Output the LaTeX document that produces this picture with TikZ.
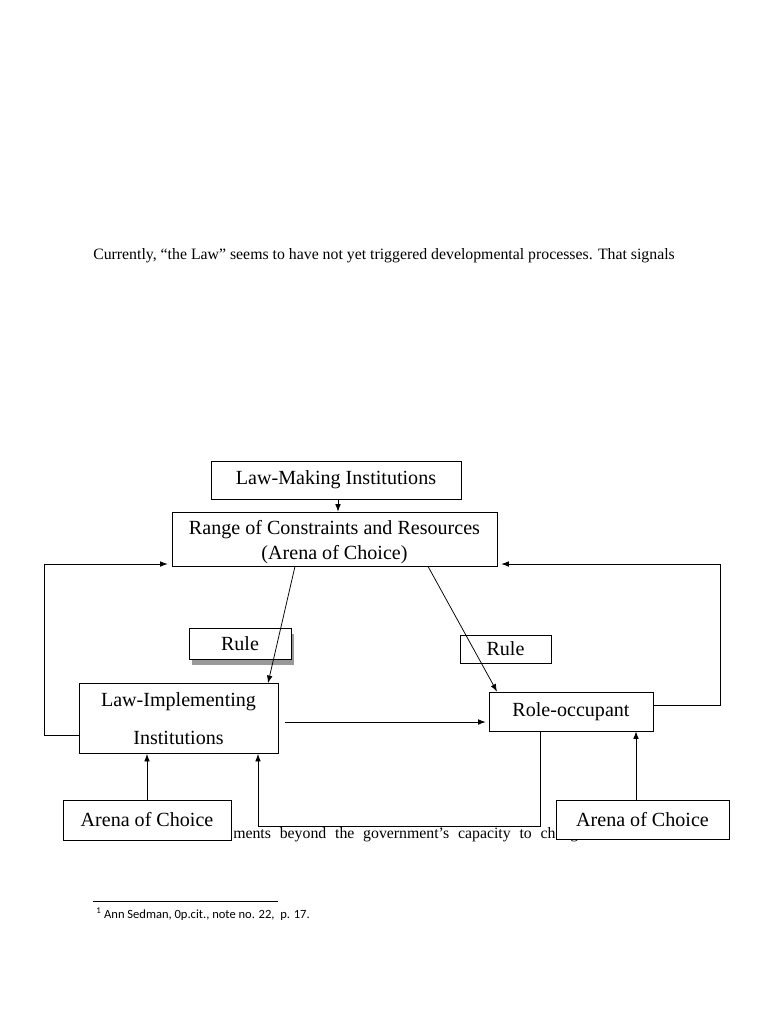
\documentclass[tikz,border=0pt]{standalone}
\usepackage{fontspec}
\setmainfont{Liberation Serif}
\newfontfamily\notefont{Carlito}
\usetikzlibrary{calc,shadows,arrows.meta}

\tikzset{
  box/.style={draw, fill=white, line width=0.6pt, align=center, inner sep=0pt,
    font=\fontsize{16}{20}\selectfont},
  link/.style={line width=0.6pt, -{Latex[length=6pt,width=4.5pt]}}
}

\begin{document}
\begin{tikzpicture}[x=0.797pt,y=-0.797pt]
				\useasboundingbox (0,0) rectangle (768,1024);
				\node[anchor=base west, inner sep=0pt, font=\fontsize{12.6}{14}\selectfont] (intro) at (93,259) {Currently, ``the Law'' seems to have not yet triggered developmental processes. That signals};
				\node[anchor=base west, inner sep=0pt, font=\fontsize{12.6}{14}\selectfont] (body) at (233,838) {\spaceskip=7pt ments beyond the government’s capacity to change};
				\draw[line width=0.6pt] (93,901) -- (278,901);
				\node[anchor=base west, inner sep=0pt, font=\notefont\fontsize{10}{12}\selectfont] (note) at (96,918) {\textsuperscript{1} Ann Sedman, 0p.cit., note no. 22,\ \ p. 17.};
				\node[box, minimum width=199.3pt, minimum height=30.3pt] (lawmaking) at (336,480) {Law-Making Institutions};
				\node[box, minimum width=259pt, minimum height=43pt] (range) at (334.5,539) {\rule{0pt}{16pt}Range of Constraints and Resources\\(Arena of Choice)};
				\node[box, minimum width=81.3pt, minimum height=24.7pt, drop shadow={shadow xshift=2.4pt, shadow yshift=-4.5pt, fill=black!40, opacity=1}] (rulel) at (240,643.5) {Rule};
				\node[box, minimum width=72.5pt, minimum height=22.3pt] (ruler) at (505.5,649) {Rule};
				\node[box, minimum width=158.6pt, minimum height=55.8pt] (implementing) at (178.5,718.5) {Law-Implementing\\[10pt]Institutions};
				\node[box, minimum width=130.7pt, minimum height=31.1pt] (role) at (571,711.5) {Role-occupant};
				\node[box, minimum width=133.9pt, minimum height=31.9pt] (arenal) at (147,820) {Arena of Choice};
				\node[box, minimum width=137.9pt, minimum height=31.1pt] (arenar) at (642.5,819.5) {Arena of Choice};
				\draw[link] ($(lawmaking.south)+(2,0)$) -- ($(range.north)+(3.5,0)$);
				\draw[link] ($(range.south)+(-39.5,0)$) -- ($(implementing.north)+(89.5,0)$);
				\draw[link] ($(range.south)+(93.5,0)$) -- ($(role.north)+(-74,0)$);
				\draw[link] ($(implementing.east)+(7,3.5)$) -- ($(role.west)+(-3,10.5)$);
				\draw[link] ($(implementing.west)+(0,17)$) -- ++(-34,0) |- ($(range.west)+(-4,25)$);
				\draw[link] ($(role.east)+(0,-6.5)$) -- ++(67,0) |- ($(range.east)+(4,25)$);
				\draw[link] (arenal.north) -- (arenal.north |- implementing.south);
				\draw[link] ($(arenar.north)+(-6.5,0)$) -- ($(role.south)+(65,0)$);
				\draw[link] ($(role.south)+(-31,0)$) -- ++(0,95) -| ($(implementing.south)+(79.5,0)$);
\end{tikzpicture}
\end{document}
